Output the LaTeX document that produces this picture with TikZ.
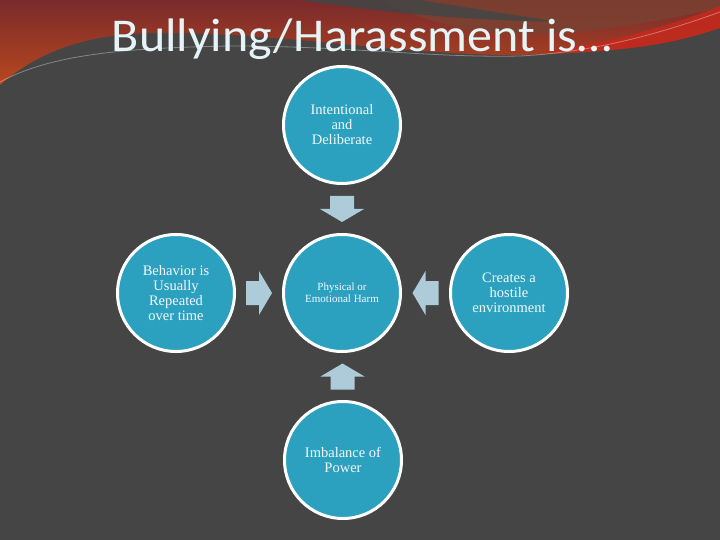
\documentclass[tikz,border=0pt]{standalone}
\usepackage{fontspec}
\setmainfont{Liberation Serif}
\newfontfamily\titlefont{Carlito}
\usetikzlibrary{calc}
\definecolor{bggray}{HTML}{454545}
\definecolor{circfill}{HTML}{2CA0BF}
\definecolor{arrfill}{HTML}{AECBD9}
\definecolor{titlecol}{HTML}{E4F4F7}
\definecolor{txtcol}{HTML}{F2FAFB}
\definecolor{redtop}{HTML}{7A2A2C}
\definecolor{redbot}{HTML}{B8481E}
\definecolor{browntop}{HTML}{7A4232}
\definecolor{brightred}{HTML}{C22A1E}
\tikzset{
  bubble/.style={circle, draw=white, line width=3pt, fill=circfill,
    minimum size=117pt, inner sep=0pt, text=txtcol, align=center},
  bigtxt/.style={font=\fontsize{14.5}{15}\selectfont},
  smalltxt/.style={font=\fontsize{11}{12}\selectfont},
  barrow/.pic={\fill[arrfill] (-13,-12) -- (0,-12) -- (0,-22) -- (13,0) -- (0,22) -- (0,12) -- (-13,12) -- cycle;}
}
\begin{document}
\begin{tikzpicture}[x=1pt,y=-1pt]
\useasboundingbox (0,0) rectangle (720,540);
\fill[bggray] (0,0) rectangle (720,540);
% red band at top
\shade[top color=redtop, bottom color=redbot]
  (0,0) -- (720,0) -- (720,28)
  .. controls (670,45) and (600,55) .. (500,55)
  .. controls (380,52) and (280,33) .. (160,33)
  .. controls (90,33) and (40,50) .. (0,85) -- cycle;
\fill[browntop, opacity=0.85]
  (380,0) -- (720,0) -- (720,8)
  .. controls (620,30) and (540,40) .. (470,30)
  .. controls (430,22) and (400,10) .. (380,0) -- cycle;
\fill[brightred, opacity=0.9]
  (540,52) .. controls (620,42) and (680,22) .. (720,6)
  -- (720,28) .. controls (670,45) and (620,53) .. (540,52) -- cycle;
% gray swoosh at top
\fill[bggray, opacity=0.9]
  (300,0) .. controls (380,12) and (460,20) .. (560,22)
  .. controls (480,10) and (440,3) .. (420,0) -- cycle;
% light thin line
\draw[white, opacity=0.35, line width=0.8pt]
  (0,82) .. controls (50,55) and (120,48) .. (230,46)
  .. controls (350,46) and (430,58) .. (520,56)
  .. controls (600,52) and (670,30) .. (720,12);
% title
\node[anchor=base, text=titlecol, inner sep=0pt, xscale=1.064, transform shape,
  font=\titlefont\fontsize{47}{50}\selectfont] (title) at (362,52) {Bullying/Harassment is…};
% circles
\node[bubble, bigtxt] (top) at (342,125) {Intentional\\and\\Deliberate};
\node[bubble, bigtxt] (left) at (176,293) {Behavior is\\Usually\\Repeated\\over time};
\node[bubble, smalltxt] (mid) at (342,293) {Physical or\\Emotional Harm};
\node[bubble, bigtxt] (right) at (509,293) {Creates a\\hostile\\environment};
\node[bubble, bigtxt] (bot) at (343,460) {Imbalance of\\Power};
% block arrows
\pic[rotate=-90] at ($(top.south)!0.5!(mid.north)$) {barrow};
\pic at ($(left.east)!0.5!(mid.west)$) {barrow};
\pic[rotate=180] at ($(right.west)!0.5!(mid.east)$) {barrow};
\pic[rotate=90] at ($(bot.north)!0.5!(mid.south)$) {barrow};
\end{tikzpicture}
\end{document}
